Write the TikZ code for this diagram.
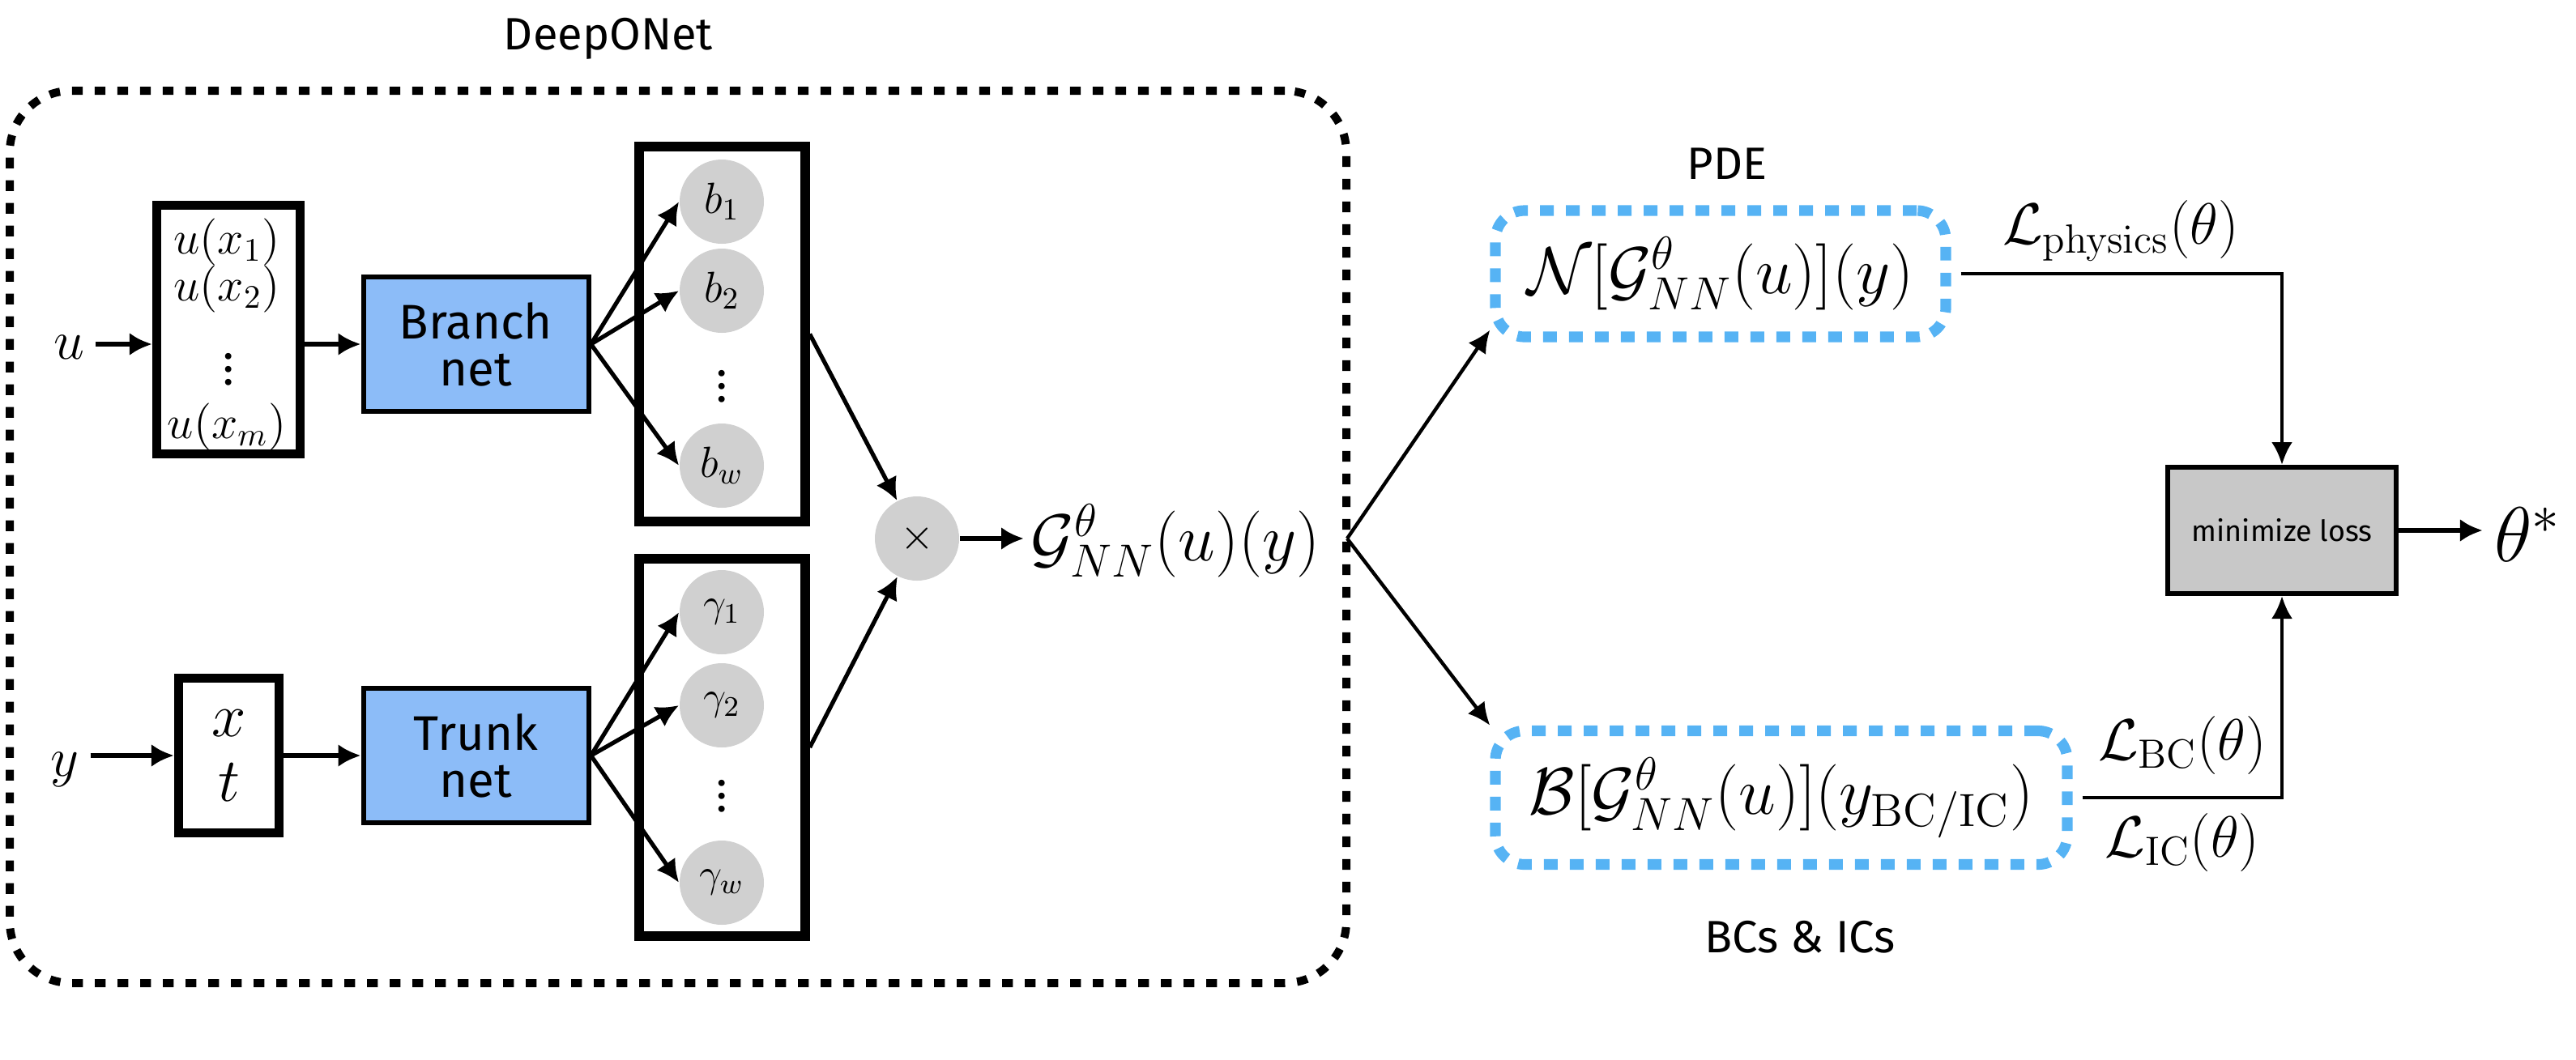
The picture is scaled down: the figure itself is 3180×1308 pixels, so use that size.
\RequirePackage{fix-cm}
\documentclass[tikz,border=0pt]{standalone}
\usepackage[no-math]{fontspec}
\setmainfont{Fira Sans}
\usetikzlibrary{arrows.meta,calc}
\definecolor{netblue}{HTML}{8CBCF8}
\definecolor{dotblue}{HTML}{56B3F4}
\definecolor{circgray}{HTML}{D0D0D0}
\definecolor{boxgray}{HTML}{C8C8C8}
\tikzset{
  thickbox/.style={draw, line width=2.8pt, inner sep=0pt},
  netbox/.style={draw, fill=netblue, line width=1.5pt, minimum width=69.5pt, minimum height=41.5pt, align=center, font=\fontsize{15}{14.5}\selectfont},
  neuron/.style={circle, fill=circgray, minimum size=26pt, inner sep=0pt, font=\fontsize{13.5}{15}\selectfont},
  boxmath/.style={inner sep=0.5pt, font=\fontsize{14.5}{16}\selectfont},
  iomath/.style={font=\fontsize{17}{19}\selectfont},
  xtmath/.style={inner sep=0.5pt, font=\fontsize{19}{21}\selectfont},
  dotsnode/.style={inner sep=0pt, font=\fontsize{14}{16}\selectfont},
  bigmath/.style={font=\fontsize{20.5}{23}\selectfont},
  lossmath/.style={font=\fontsize{18}{20}\selectfont},
  sanslabel/.style={font=\fontsize{14}{16}\selectfont},
  arr/.style={-{Latex[length=7pt,width=7pt]}, line width=1.5pt},
  fanarr/.style={-{Latex[length=7pt,width=7pt]}, line width=1.3pt},
  thinarr/.style={-{Latex[length=7pt,width=6.5pt]}, line width=1.1pt},
  bluebox/.style={draw=dotblue, line width=3.3pt, dash pattern=on 4.2pt off 3.8pt, rounded corners=9pt, inner sep=0pt},
  blackdot/.style={draw, line width=2.5pt, dash pattern=on 3.3pt off 3.7pt, rounded corners=19pt}
}
\begin{document}
\begin{tikzpicture}[x=0.25pt, y=-0.25pt]
\useasboundingbox (0,0) rectangle (3180,1308);
% DeepONet frame
\node[blackdot, minimum width=412.5pt, minimum height=275.5pt] (frame) at (837,663) {};
\node[sanslabel] (dlabel) at (751,48) {DeepONet};
% branch side
\node[iomath] (ulab) at (85,429) {$u$};
\node[thickbox, minimum width=44.25pt, minimum height=76.75pt] (ux) at (282,407) {};
\node[boxmath] (ux1) at (280,299) {$u(x_1)$};
\node[boxmath] (ux2) at (280,357) {$u(x_2)$};
\node[dotsnode] (uxd) at (282,444) {$\vdots$};
\node[boxmath] (uxm) at (280,527) {$u(x_m)$};
\node[netbox] (branch) at (587.5,425) {Branch\\net};
\draw[arr] (ulab.east |- branch.west) -- (ux.west |- branch.west);
\draw[arr] (ux.east |- branch.west) -- (branch.west);
% trunk side
\node[iomath] (ylab) at (80,950) {$y$};
\node[thickbox, minimum width=31pt, minimum height=47.75pt] (xt) at (282.5,933) {};
\node[xtmath] (xlab) at (282.5,893) {$x$};
\node[xtmath] (tlab) at (282.5,966) {$t$};
\node[netbox] (trunk) at (587.5,933) {Trunk\\net};
\draw[arr] (ylab.east |- xt.west) -- (xt.west);
\draw[arr] (xt.east) -- (trunk.west);
% b box
\node[thickbox, minimum width=51.25pt, minimum height=115.75pt] (bbox) at (891.5,412.5) {};
\node[neuron] (b1) at (891,249) {$b_1$};
\node[neuron] (b2) at (891,359) {$b_2$};
\node[dotsnode] (bd) at (891,465) {$\vdots$};
\node[neuron] (bw) at (891,575) {$b_w$};
% gamma box
\node[thickbox, minimum width=51.25pt, minimum height=116.5pt] (gbox) at (891.5,923) {};
\node[neuron, font=\fontsize{12.5}{14}\selectfont] (g1) at (891,756) {$\gamma_1$};
\node[neuron, font=\fontsize{12.5}{14}\selectfont] (g2) at (891,871) {$\gamma_2$};
\node[dotsnode] (gd) at (891,971) {$\vdots$};
\node[neuron, font=\fontsize{12.5}{14}\selectfont] (gw) at (891,1090) {$\gamma_w$};
\draw[fanarr] (branch.east) -- (b1.west);
\draw[fanarr] (branch.east) -- (b2.west);
\draw[fanarr] (branch.east) -- (bw.west);
\draw[fanarr] (trunk.east) -- (g1.west);
\draw[fanarr] (trunk.east) -- (g2.west);
\draw[fanarr] (trunk.east) -- (gw.west);
% product
\node[neuron] (times) at (1132,665) {$\times$};
\draw[fanarr] (bbox.east) -- (times);
\draw[fanarr] (gbox.east) -- (times);
\node[bigmath, anchor=base west, inner sep=2pt] (G) at (1264,692) {$\mathcal{G}^{\theta}_{NN}(u)(y)$};
\draw[arr] (times) -- (G.west |- times);
\coordinate (split) at (1663,665);
% PDE / BC boxes
\node[bluebox, bigmath, minimum width=139pt, minimum height=39pt] (pde) at (2124,338) {$\mathcal{N}[\mathcal{G}^{\theta}_{NN}(u)](y)$};
\node[sanslabel] (pdelab) at (2132,202) {PDE};
\node[bluebox, bigmath, minimum width=176.5pt, minimum height=41.25pt] (bc) at (2199,985) {$\mathcal{B}[\mathcal{G}^{\theta}_{NN}(u)](y_{\mathrm{BC/IC}})$};
\node[sanslabel] (bclab) at (2222,1157) {BCs \& ICs};
\draw[thinarr] (split) -- ($(pde.west)!0.82!(pde.south west)$);
\draw[thinarr] (split) -- (bc.north west);
% loss
\node[draw, fill=boxgray, line width=1.5pt, minimum width=70.5pt, minimum height=39pt, font=\fontsize{9}{10}\selectfont] (minbox) at (2817,655) {minimize loss};
\draw[thinarr, shorten <=3pt] (pde.east) -| (minbox.north);
\draw[thinarr, shorten <=3pt] (bc.east) -| (minbox.south);
\node[lossmath] (lphys) at (2618,285) {$\mathcal{L}_{\mathrm{physics}}(\theta)$};
\node[lossmath] (lbc) at (2694,920) {$\mathcal{L}_{\mathrm{BC}}(\theta)$};
\node[lossmath] (lic) at (2694,1040) {$\mathcal{L}_{\mathrm{IC}}(\theta)$};
\node[font=\fontsize{24}{26}\selectfont] (theta) at (3120,660) {$\theta^*$};
\draw[arr] (minbox.east) -- (minbox.east -| theta.west);
\end{tikzpicture}
\end{document}
